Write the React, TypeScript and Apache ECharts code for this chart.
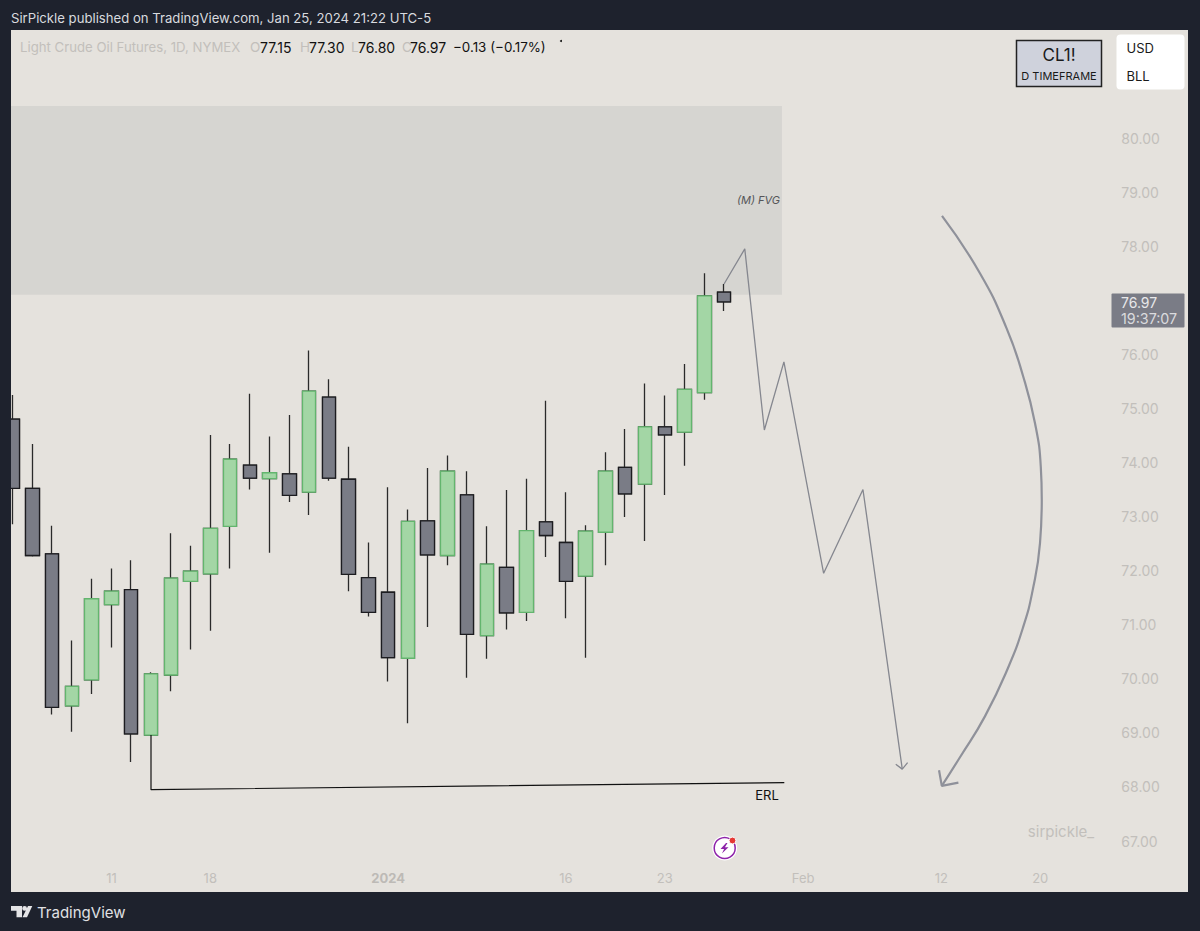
import React, { useEffect, useRef } from "react";
import * as echarts from "echarts";

const categories = [
  "Dec 4","Dec 5","Dec 6","Dec 7","Dec 8","Dec 11","Dec 12","Dec 13","Dec 14","Dec 15",
  "Dec 18","Dec 19","Dec 20","Dec 21","Dec 22","Dec 26","Dec 27","Dec 28","Dec 29","Jan 2",
  "Jan 3","Jan 4","Jan 5","Jan 8","Jan 9","Jan 10","Jan 11","Jan 12","Jan 16","Jan 17",
  "Jan 18","Jan 19","Jan 22","Jan 23","Jan 24","Jan 25","Jan 26","Jan 29","Jan 30","Jan 31",
  "Feb 1","Feb 2","Feb 5","Feb 6","Feb 7","Feb 8","Feb 9","Feb 12","Feb 13","Feb 14",
  "Feb 15","Feb 16","Feb 20","Feb 21","Feb 22","Feb 23",
];
const tickLabels: Record<string, string> = {
  "Dec 11": "11", "Dec 18": "18", "Jan 2": "{b|2024}", "Jan 16": "16", "Jan 23": "23",
  "Feb 1": "Feb", "Feb 12": "12", "Feb 20": "20",
};

const opens = [74.80,73.52,72.31,69.50,69.98,71.37,71.65,68.96,70.07,71.80,71.94,72.82,73.95,73.70,73.79,73.45,75.21,73.69,71.87,71.60,70.38,72.92,72.28,73.40,70.80,72.06,71.23,72.90,72.52,71.90,72.71,73.91,73.60,74.66,74.56,75.29,77.15];
const highs = [75.25,74.34,72.83,70.71,71.85,72.04,72.19,70.12,72.69,72.46,74.51,74.34,75.27,74.48,74.88,76.07,75.54,74.29,72.52,73.54,73.13,73.90,74.13,73.84,72.82,73.49,73.70,75.14,73.45,72.84,74.19,74.62,75.46,75.24,75.82,77.50,77.30];
const lows = [72.86,72.26,69.34,69.02,69.72,70.58,68.46,68.96,69.77,70.54,70.89,72.04,73.50,72.33,73.27,73.03,73.66,71.62,71.15,69.95,69.18,70.96,72.10,70.02,70.37,70.91,71.07,72.25,71.12,70.39,72.10,72.99,72.55,73.40,73.94,75.16,76.80];
const closes = [73.52,72.28,69.47,69.86,71.48,71.62,68.98,70.09,71.86,71.99,72.78,74.06,73.71,73.81,73.39,75.32,73.71,71.93,71.23,70.39,72.91,72.29,73.84,70.82,72.12,71.22,72.74,72.65,71.80,72.73,73.84,73.42,74.66,74.51,75.35,77.08,76.97];

const priceLabels = ["67.00","68.00","69.00","70.00","71.00","72.00","73.00","74.00","75.00","76.00","77.00","78.00","79.00","80.00"];

// hand-drawn annotations: [bar index, price]
const fvgZone = [[-0.5, 80.59], [38.93, 77.10]];
const zigzag = [[36, 77.30],[37.05, 77.95],[38.04, 74.60],[39.03, 75.86],[41.04, 71.95],[43.03, 73.50],[45.02, 68.33]];
const zigzagHead = [[44.69, 68.42],[45.02, 68.33],[45.29, 68.45]];
const arc = [[47.03,78.56],[48.95,77.50],[50.30,76.48],[51.14,75.59],[51.74,74.72],[52.03,73.92],[52.08,73.31],[51.99,72.51],[51.62,71.64],[51.14,70.96],[50.37,70.20],[49.21,69.31],[47.94,68.55],[47.02,68.02]];
const arcHead = [[46.88,68.31],[47.02,68.02],[47.86,68.08]];
const erl = [[7, 68.96],[7, 67.95],[39.05, 68.08]];

const DARK = "#1E222D";
const PANEL = "#E5E2DD";
const AXIS_TEXT = "#C2BFBB";
const FONT = "Inter, Roboto, sans-serif";
const LOGO = "M0 0H11V11.3H5.5V4.8H0ZM11.2 2.4A2.4 2.4 0 1 1 16 2.4A2.4 2.4 0 1 1 11.2 2.4ZM17 0H21.3L16 11.3H11.5Z";
const BOLT = "M5.5 0L0 6H3.6L1.4 10.5L8 4.2H4.4L7 0Z";

function txt(text: string, x: number, y: number, fontSize: number, fill: string, extra: any = {}) {
  return {
    type: "text", x, y, z: 102, silent: true,
    style: { text, fontSize, fill, fontFamily: FONT, textVerticalAlign: "middle", verticalAlign: "middle", ...extra },
  };
}

export default function App() {
  const ref = useRef<HTMLDivElement>(null);
  useEffect(() => {
    document.body.style.margin = "0";
    echarts.graphic.registerShape("tvLogo", echarts.graphic.extendPath(LOGO, {}));
    echarts.graphic.registerShape("tvBolt", echarts.graphic.extendPath(BOLT, {}));
    const chart = echarts.init(ref.current!, undefined, { renderer: "svg" });
    const rows = opens.map((o, i) => [o, closes[i], lows[i], highs[i]]);
    const bodies = opens.map((o, i) => [o, closes[i], Math.min(o, closes[i]), Math.max(o, closes[i])]);
    const annot = (name: string, data: number[][], color: string, width: number, smooth: any = false) => ({
      type: "line", name, data, xAxisIndex: 1, yAxisIndex: 0, symbol: "none", smooth, z: 4,
      lineStyle: { color, width }, silent: true,
    });
    chart.setOption({
      animation: false,
      backgroundColor: PANEL,
      tooltip: { show: false },
      grid: { left: 2.8, top: 29.84, width: 1106.56, height: 811.2 },
      xAxis: [
        {
          type: "category", data: categories, boundaryGap: true, position: "bottom",
          axisLine: { show: false }, axisTick: { show: false }, splitLine: { show: false },
          axisLabel: {
            interval: 0, margin: 30, color: AXIS_TEXT, fontFamily: FONT, fontSize: 13,
            formatter: (v: string) => tickLabels[v] ?? "",
            rich: { b: { fontWeight: "bold", color: "#BDBAB6", fontFamily: FONT, fontSize: 13 } },
          },
        },
        { type: "value", min: -0.5, max: 55.5, show: false },
      ],
      yAxis: {
        type: "value", min: 67, max: 82, interval: 1, position: "right", scale: true,
        axisLine: { show: false }, axisTick: { show: false }, splitLine: { show: false },
        axisLabel: {
          margin: 12, color: AXIS_TEXT, fontFamily: FONT, fontSize: 14,
          formatter: (v: number) => priceLabels[Math.round(v) - 67] ?? "",
        },
      },
      series: [
        {
          type: "line", name: "FVG zone", data: [], xAxisIndex: 1, yAxisIndex: 0, z: 1, silent: true,
          markArea: {
            silent: true,
            itemStyle: { color: "#D6D5D1" },
            data: [[{ xAxis: fvgZone[0][0], yAxis: fvgZone[0][1] }, { xAxis: fvgZone[1][0], yAxis: fvgZone[1][1] }]],
          },
        },
        annot("ERL", erl, "#111111", 1.2),
        {
          type: "candlestick", name: "CL1! wicks", data: rows, z: 2, barWidth: 14, silent: true,
          itemStyle: { color: "#2A2A2A", color0: "#2A2A2A", borderColor: "#2A2A2A", borderColor0: "#2A2A2A", borderWidth: 1.3 },
        },
        {
          type: "candlestick", name: "CL1! bodies", data: bodies, z: 3, barWidth: 14, silent: true,
          itemStyle: { color: "#A3D6A5", color0: "#7A7C86", borderColor: "#63B56E", borderColor0: "#1C1C20", borderWidth: 1.3 },
        },
        annot("Projection", zigzag, "#85878F", 1.3),
        annot("Projection head", zigzagHead, "#85878F", 1.3),
        annot("Swing", arc, "#8F919A", 2.2, 0.5),
        annot("Swing head", arcHead, "#8F919A", 2.2),
      ],
      graphic: [
        { type: "rect", z: 100, silent: true, shape: { x: 0, y: 0, width: 1200, height: 30 }, style: { fill: DARK } },
        { type: "rect", z: 100, silent: true, shape: { x: 0, y: 892, width: 1200, height: 39 }, style: { fill: DARK } },
        { type: "rect", z: 100, silent: true, shape: { x: 0, y: 0, width: 11, height: 931 }, style: { fill: DARK } },
        { type: "rect", z: 100, silent: true, shape: { x: 1188, y: 0, width: 12, height: 931 }, style: { fill: DARK } },
        txt("SirPickle published on TradingView.com, Jan 25, 2024 21:22 UTC-5", 11, 18, 13.15, "#D8DADF"),
        txt("Light Crude Oil Futures, 1D, NYMEX", 20, 47, 13.2, AXIS_TEXT),
        txt("O", 250, 47, 13.5, AXIS_TEXT), txt("77.15", 260, 47, 14, "#111"),
        txt("H", 300, 47, 13.5, AXIS_TEXT), txt("77.30", 309, 47, 14, "#111"),
        txt("L", 351, 47, 13.5, AXIS_TEXT), txt("76.80", 358, 47, 14, "#111"),
        txt("C", 402, 47, 13.5, AXIS_TEXT), txt("76.97", 410, 47, 14, "#111"),
        txt("−0.13 (−0.17%)", 453, 47, 13.4, "#111"),
        { type: "circle", z: 102, silent: true, shape: { cx: 561, cy: 41, r: 1 }, style: { fill: "#111" } },
        { type: "rect", z: 101, silent: true, shape: { x: 1016.5, y: 40.5, width: 85, height: 46 }, style: { fill: "#CFD2DC", stroke: "#222", lineWidth: 1.5 } },
        txt("CL1!", 1059, 54.5, 17, "#1a1a1a", { textAlign: "center", align: "center" }),
        txt("D TIMEFRAME", 1059, 76, 11, "#1a1a1a", { textAlign: "center", align: "center" }),
        { type: "rect", z: 101, silent: true, shape: { x: 1116.5, y: 34.5, width: 68, height: 55, r: 4 }, style: { fill: "#FFFFFF" } },
        txt("USD", 1126.5, 48, 13, "#1a1a1a"),
        txt("BLL", 1126.5, 75.5, 13, "#1a1a1a"),
        txt("(M) FVG", 780, 200, 11, "#555558", { textAlign: "right", align: "right", fontStyle: "italic" }),
        txt("ERL", 767, 795, 13, "#111", { textAlign: "center", align: "center" }),
        txt("sirpickle_", 1061, 831, 15, AXIS_TEXT, { textAlign: "center", align: "center" }),
        { type: "rect", z: 101, silent: true, shape: { x: 1111.5, y: 293.5, width: 73, height: 34, r: 1 }, style: { fill: "#7A7C86" } },
        txt("76.97", 1121, 302.5, 14, "#E8E8EA"),
        txt("19:37:07", 1121, 318, 14.3, "#DADBDE"),
        { type: "tvLogo", x: 11, y: 906, z: 102, silent: true, style: { fill: "#E4E4E6" } },
        txt("TradingView", 37, 912, 15, "#E0E1E4"),
        { type: "circle", z: 101, silent: true, shape: { cx: 724.7, cy: 848, r: 12.5 }, style: { fill: "#FFFFFF" } },
        { type: "circle", z: 101, silent: true, shape: { cx: 724.7, cy: 848, r: 10.5 }, style: { fill: "#FFFFFF", stroke: "#8E24AA", lineWidth: 1.5 } },
        { type: "tvBolt", x: 720.5, y: 843, z: 102, silent: true, style: { fill: "#8E24AA" } },
        { type: "circle", z: 102, silent: true, shape: { cx: 732.5, cy: 840.5, r: 3.4 }, style: { fill: "#E53935", stroke: "#FFFFFF", lineWidth: 1 } },
      ],
    });
    return () => chart.dispose();
  }, []);
  return <div ref={ref} style={{ position: "fixed", left: 0, top: 0, width: 1200, height: 931 }} />;
}
